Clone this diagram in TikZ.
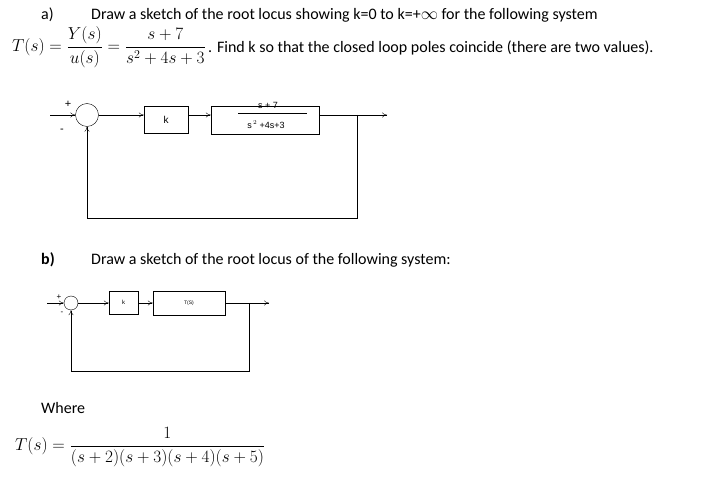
\documentclass[tikz,border=0pt]{standalone}
\usepackage{amsmath}
\usepackage{fontspec}
\setmainfont{Carlito}
\newfontfamily\ser{Liberation Serif}
\newfontfamily\dia{Liberation Sans}
\usetikzlibrary{arrows.meta}
\begin{document}
\begin{tikzpicture}[x=1pt,y=-1pt,
  blk/.style={draw,thin,inner sep=0pt},
  sig/.style={thin,-{To[length=5pt,width=5pt]}},
  ln/.style={thin},
  txt/.style={anchor=west,inner sep=0pt,font=\fontsize{16}{18}\selectfont}]
\useasboundingbox (0,0) rectangle (718,481);
% texts
\node[txt] (a) at (41,15) {a)};
\node[txt] (ta) at (91,15) {Draw a sketch of the root locus showing k=0 to k=+$\infty$ for the following system};
\node[anchor=west,inner sep=0pt,font=\fontsize{17}{19}\selectfont] (eq1) at (12,47)
 {$T(s)=\dfrac{Y(s)}{u(s)}=\dfrac{s+7}{s^2+4s+3}$};
\node[txt] (tb) at (208,48) {. Find k so that the closed loop poles coincide (there are two values).};
\node[txt,font=\bfseries\fontsize{16}{18}\selectfont] (b) at (41,260) {b)};
\node[txt] (tb2) at (91,260) {Draw a sketch of the root locus of the following system:};
\node[txt] (wh) at (41,408) {Where};
\node[anchor=west,inner sep=0pt,font=\fontsize{17}{19}\selectfont] (eq2) at (15,447)
 {$T(s)=\dfrac{1}{(s+2)(s+3)(s+4)(s+5)}$};
% diagram 1
\node[draw,thin,circle,minimum size=23pt,inner sep=0pt] (s1) at (87,115) {};
\coordinate (in1) at (50,115);
\node[blk,minimum width=44pt,minimum height=27pt,font=\dia\fontsize{10}{12}\selectfont] (k1) at (166,119.5) {k};
\node[blk,minimum width=108pt,minimum height=28pt] (g1) at (265,120) {};
\node[font=\dia\fontsize{9}{10}\selectfont,inner sep=0pt] (n1) at (268,105) {s + 7};
\draw[ln] (238,113) -- (307,113);
\node[font=\dia\fontsize{9}{10}\selectfont,inner sep=0pt] (d1) at (266,125) {s$^{\,2}$ +4s+3};
\coordinate (o1) at (387,115);
\coordinate (br1) at (357,115);
\coordinate (bb1) at (357,218);
\coordinate (bs1) at (87,218);
\draw[sig] (in1) -- (s1);
\draw[sig] (s1) -- (k1.west|-s1);
\draw[sig] (k1.east|-s1) -- (g1.west|-s1);
\draw[sig] (g1.east|-s1) -- (o1);
\draw[sig] (br1) -- (bb1) -- (bs1) -- (s1);
\node[font=\dia\fontsize{11}{12}\selectfont] (p1) at (68,104) {+};
\node[font=\dia\fontsize{11}{12}\selectfont] (m1) at (62,131) {-};
% diagram 2
\node[draw,thin,circle,minimum size=14pt,inner sep=0pt] (s2) at (71,303) {};
\coordinate (in2) at (47,303);
\node[blk,minimum width=29pt,minimum height=23pt,font=\dia\fontsize{6}{7}\selectfont] (k2) at (123.5,302.5) {k};
\node[blk,minimum width=72pt,minimum height=24pt,font=\dia\fontsize{5}{6}\selectfont] (g2) at (189,303) {T(S)};
\coordinate (o2) at (269,303);
\coordinate (br2) at (249,303);
\coordinate (bb2) at (249,371);
\coordinate (bs2) at (71,371);
\draw[sig] (in2) -- (s2);
\draw[sig] (s2) -- (k2.west|-s2);
\draw[sig] (k2.east|-s2) -- (g2.west|-s2);
\draw[sig] (g2.east|-s2) -- (o2);
\draw[sig] (br2) -- (bb2) -- (bs2) -- (s2);
\node[font=\dia\fontsize{8}{9}\selectfont] (p2) at (59,297) {+};
\node[font=\dia\fontsize{8}{9}\selectfont] (m2) at (62,313) {-};
\end{tikzpicture}
\end{document}
